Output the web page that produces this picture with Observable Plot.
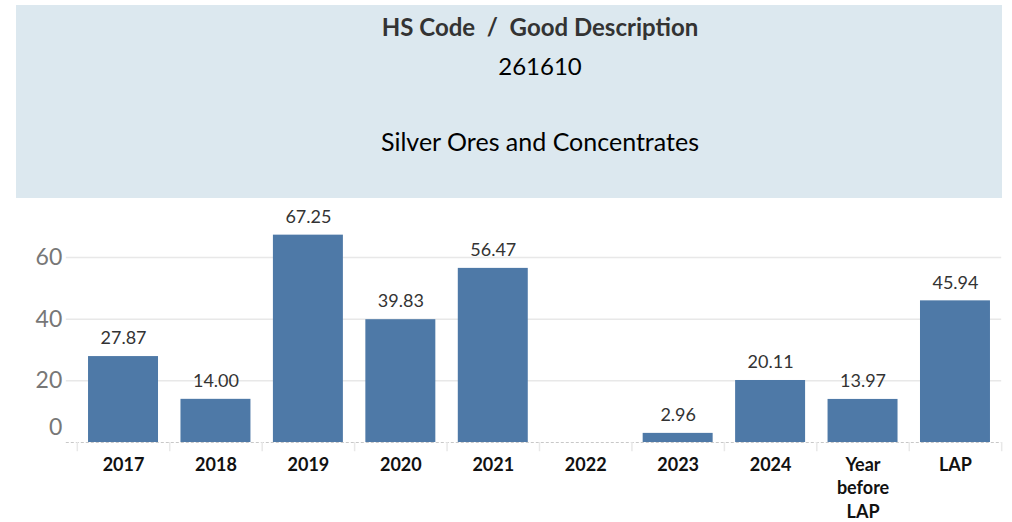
<!DOCTYPE html>
<html>
<head>
<meta charset="utf-8">
<script src="https://cdn.jsdelivr.net/npm/d3@7"></script>
<script src="https://cdn.jsdelivr.net/npm/@observablehq/plot@0.6"></script>
<style>
  html, body { margin: 0; padding: 0; background: #fff; width: 1012px; height: 522px; overflow: hidden; }
  #header {
    position: absolute; left: 16px; top: 5px; width: 986px; height: 193px;
    background: #dce8ef; font-family: Lato, sans-serif; text-align: center;
  }
  #header div { position: absolute; left: 62px; right: 0; white-space: nowrap; }
  #header .t1 { top: 7px; font-size: 24px; font-weight: bold; color: #333; }
  #header .t2 { top: 46px; font-size: 24px; color: #000; }
  #header .t3 { top: 121px; font-size: 25px; color: #000; }
  #chart { position: absolute; left: 0; top: 200px; }
</style>
</head>
<body>
<div id="header">
  <div class="t1">HS Code&nbsp; /&nbsp; Good Description</div>
  <div class="t2">261610</div>
  <div class="t3">Silver Ores and Concentrates</div>
</div>
<div id="chart"></div>
<script>
const categories = ["2017", "2018", "2019", "2020", "2021", "2022", "2023", "2024", "Year before LAP", "LAP"];
const values = [27.87, 14.00, 67.25, 39.83, 56.47, null, 2.96, 20.11, 13.97, 45.94];
const yTicks = [0, 20, 40, 60];

const data = categories.map((c, i) => ({category: c, value: values[i]}));
const bars = data.filter(d => d.value != null);

const width = 1012, marginLeft = 76.8, marginRight = 10.8;
const step = (width - marginLeft - marginRight) / categories.length;

const chart = Plot.plot({
  width: width,
  height: 322,
  marginTop: 20,
  marginBottom: 80,
  marginLeft: marginLeft,
  marginRight: marginRight,
  style: {fontFamily: "Lato, sans-serif", background: "transparent"},
  x: {domain: categories, paddingInner: 0.243, paddingOuter: 0.1215, round: false, label: null, axis: null},
  y: {domain: [0, 72], label: null, axis: null},
  marks: [
    Plot.gridY(yTicks.filter(t => t > 0), {stroke: "#e8e8e8", strokeOpacity: 1, strokeWidth: 1.5, insetLeft: -11}),
    Plot.ruleY([0], {stroke: "#c8c8c8", strokeDasharray: "3,2", insetLeft: -11}),
    Plot.ruleX(categories, {x: d => d, y1: 0, y2: -3, dx: -step / 2, stroke: "#e8e8e8", strokeWidth: 1.5}),
    Plot.ruleX(categories.slice(-1), {x: d => d, y1: 0, y2: -3, dx: step / 2, stroke: "#e8e8e8", strokeWidth: 1.5}),
    Plot.barY(bars, {x: "category", y: "value", fill: "#4e79a7"}),
    Plot.text(bars, {x: "category", y: "value", text: d => d.value.toFixed(2), dy: -18, fontSize: 18, fill: "#333"}),
    Plot.axisY(yTicks.filter(t => t > 0), {tickSize: 0, tickPadding: 15, fontSize: 23, fill: "#777", label: null}),
    Plot.axisY([0], {tickSize: 0, tickPadding: 15, fontSize: 23, fill: "#777", dy: -15, label: null}),
    Plot.text(categories, {
      x: d => d, y: 0, text: d => d.replace(/ /g, "\n"), lineAnchor: "top", dy: 11,
      fontSize: 18, fontWeight: "bold", fill: "#111", lineHeight: 1.33
    })
  ]
});
document.getElementById("chart").appendChild(chart);
</script>
</body>
</html>
